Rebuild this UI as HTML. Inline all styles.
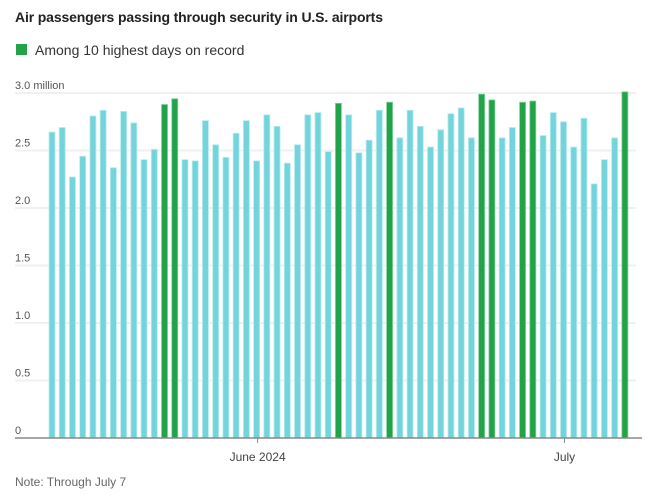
<!DOCTYPE html>
<html><head><meta charset="utf-8"><style>
body{margin:0;background:#fff;font-family:"Liberation Sans",sans-serif;}
svg text{font-family:"Liberation Sans",sans-serif;}
</style></head><body>
<svg id="chart" width="648" height="491" xmlns="http://www.w3.org/2000/svg">
<text x="15" y="22" font-size="14" font-weight="bold" fill="#222" textLength="368">Air passengers passing through security in U.S. airports</text>
<g>
<rect x="16" y="44" width="11" height="11" fill="#22a34a"/>
<text x="35" y="55" font-size="14" fill="#333">Among 10 highest days on record</text>
</g>
<g id="grid"></g><g id="bars"></g><g id="axis"></g>
<text x="15" y="486" font-size="12" fill="#666">Note: Through July 7</text>
</svg>
<script>
const values=[2.66,2.70,2.27,2.45,2.80,2.85,2.35,2.84,2.74,2.42,2.51,2.90,2.95,2.42,2.41,2.76,2.55,2.44,2.65,2.76,2.41,2.81,2.71,2.39,2.55,2.81,2.83,2.49,2.91,2.81,2.48,2.59,2.85,2.92,2.61,2.85,2.71,2.53,2.68,2.82,2.87,2.61,2.99,2.94,2.61,2.70,2.92,2.93,2.63,2.83,2.75,2.53,2.78,2.21,2.42,2.61,3.01];
const topDays=[11,12,28,33,42,43,46,47,56];
const yTicks=[0,0.5,1.0,1.5,2.0,2.5,3.0];
const yTickLabels=["0","0.5","1.0","1.5","2.0","2.5","3.0 million"];
const xTickIdx=[20,50];
const xTickLabels=["June 2024","July"];
const NS="http://www.w3.org/2000/svg";
const y=v=>438-v*115;
const x=i=>52+i*10.23;
function mk(t,a,p){const e=document.createElementNS(NS,t);for(const k in a)e.setAttribute(k,a[k]);p.appendChild(e);return e;}
const grid=document.getElementById('grid'),bars=document.getElementById('bars'),axis=document.getElementById('axis');
yTicks.forEach((v,i)=>{
 if(v>0){const l=mk('line',{x1:15,x2:636,y1:y(v),y2:y(v),stroke:'#f0f0f0','stroke-width':2},grid);
 
 }
 const t=mk('text',{x:15,y:y(v)-4,'font-size':11,fill:'#555'},grid);t.textContent=yTickLabels[i];
 
 
});
values.forEach((v,i)=>{
 const g=topDays.includes(i);
 const r=mk('rect',{x:x(i)-3,y:y(v),width:6,height:y(0)-y(v),fill:g?'#22a34a':'#74d4dc',stroke:g?'#7fd39a':'#b8ecef','stroke-width':0.8},bars);
 
 
});
const base=mk('line',{x1:15,x2:642,y1:438,y2:438,stroke:'#888','stroke-width':1.5},axis);


xTickIdx.forEach((idx,i)=>{
 const tk=mk('line',{x1:x(idx)+1,x2:x(idx)+1,y1:438,y2:443,stroke:'#888'},axis);
 
 
 const t=mk('text',{x:x(idx)+1,y:461,'font-size':12,fill:'#444','text-anchor':'middle'},axis);t.textContent=xTickLabels[i];
 
 
});
</script>
</body></html>
